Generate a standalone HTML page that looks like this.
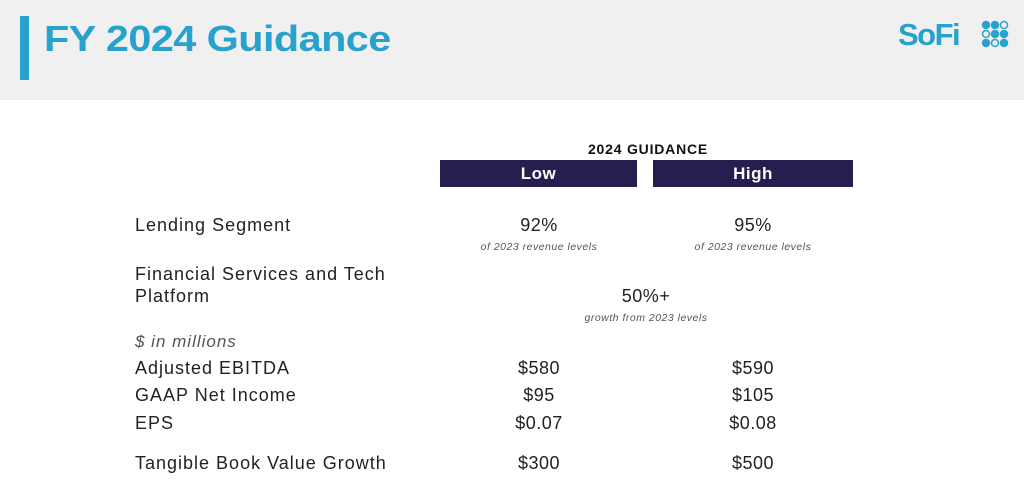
<!DOCTYPE html>
<html><head><meta charset="utf-8"><style>
body{margin:0;width:1024px;height:489px;background:#fff;position:relative;overflow:hidden;font-family:"Liberation Sans",sans-serif;color:#222}
.a{position:absolute;white-space:nowrap}
.lab{left:135px;font-size:18px;line-height:22px;letter-spacing:1px}
.v{font-size:18px;line-height:22px;transform:translateX(-50%);letter-spacing:0.5px}
.s{font-size:10.5px;font-style:italic;color:#555;transform:translateX(-50%);letter-spacing:0.5px}
.hd{position:absolute;top:160px;height:27px;background:#241f4e;color:#fff;font-weight:bold;font-size:17px;line-height:28px;text-align:center;letter-spacing:0.5px}
</style></head><body>
<div class="a" style="left:0;top:0;width:1024px;height:100px;background:#f0f0f0"></div>
<div class="a" style="left:20px;top:16px;width:9px;height:64px;background:#27a2cc"></div>
<div class="a" style="left:44px;top:18px;font-size:36px;font-weight:bold;color:#27a2cc;letter-spacing:-0.5px;transform:scaleX(1.15);transform-origin:0 0">FY 2024 Guidance</div>
<div class="a" style="left:898px;top:17px;font-size:31px;font-weight:bold;color:#27a2cc;letter-spacing:-1.5px">SoFi</div>
<svg class="a" style="left:981px;top:20px" width="34" height="32">
<g fill="#27a2cc" stroke="#27a2cc" stroke-width="1.5">
<circle cx="5" cy="5" r="3.5"/><circle cx="14" cy="5" r="3.5"/><circle cx="23" cy="5" r="3.5" fill="none"/>
<circle cx="5" cy="14" r="3.5" fill="none"/><circle cx="14" cy="14" r="3.5"/><circle cx="23" cy="14" r="3.5"/>
<circle cx="5" cy="23" r="3.5"/><circle cx="14" cy="23" r="3.5" fill="none"/><circle cx="23" cy="23" r="3.5"/>
</g></svg>
<div class="a" style="left:648px;top:141px;transform:translateX(-50%);font-size:14px;font-weight:bold;color:#111;letter-spacing:0.8px">2024 GUIDANCE</div>
<div class="hd" style="left:440px;width:197px">Low</div>
<div class="hd" style="left:653px;width:200px">High</div>

<div class="a lab" style="top:214px">Lending Segment</div>
<div class="a v" style="left:539px;top:214px">92%</div>
<div class="a s" style="left:539px;top:241px">of 2023 revenue levels</div>
<div class="a v" style="left:753px;top:214px">95%</div>
<div class="a s" style="left:753px;top:241px">of 2023 revenue levels</div>

<div class="a lab" style="top:263px">Financial Services and Tech<br>Platform</div>
<div class="a v" style="left:646px;top:285px">50%+</div>
<div class="a s" style="left:646px;top:312px">growth from 2023 levels</div>

<div class="a lab" style="top:331px;font-style:italic;color:#555;font-size:17px">$ in millions</div>

<div class="a lab" style="top:357px">Adjusted EBITDA</div>
<div class="a v" style="left:539px;top:357px">$580</div>
<div class="a v" style="left:753px;top:357px">$590</div>

<div class="a lab" style="top:384px">GAAP Net Income</div>
<div class="a v" style="left:539px;top:384px">$95</div>
<div class="a v" style="left:753px;top:384px">$105</div>

<div class="a lab" style="top:412px">EPS</div>
<div class="a v" style="left:539px;top:412px">$0.07</div>
<div class="a v" style="left:753px;top:412px">$0.08</div>

<div class="a lab" style="top:452px">Tangible Book Value Growth</div>
<div class="a v" style="left:539px;top:452px">$300</div>
<div class="a v" style="left:753px;top:452px">$500</div>
</body></html>
